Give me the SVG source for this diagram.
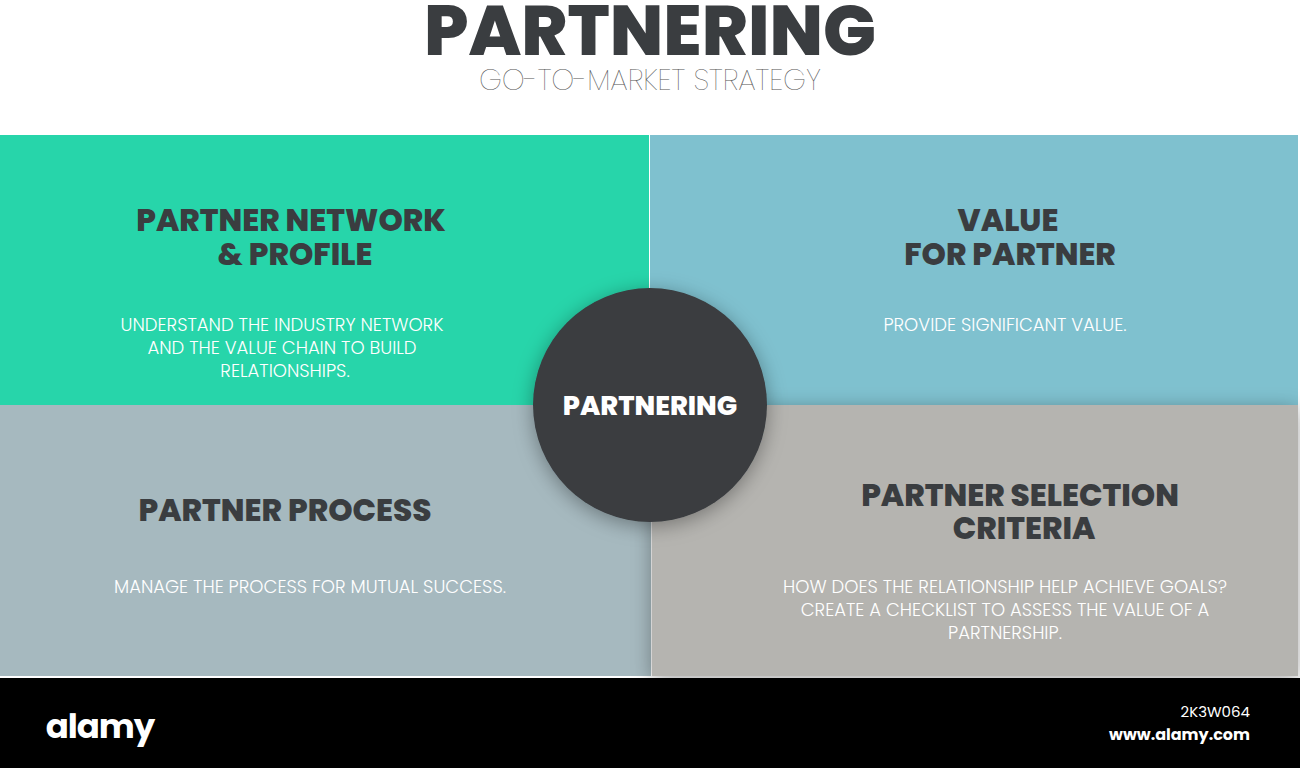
<svg xmlns="http://www.w3.org/2000/svg" width="1300" height="768" viewBox="0 0 1300 768">
<style>
text{font-family:"Poppins","Inter","Liberation Sans",sans-serif;text-anchor:middle}
.h{font-weight:800;font-size:31px;fill:#3a3d40}
.d{font-size:18px;fill:#ffffff;font-weight:300}
</style>
<defs>
<filter id="sh" x="-30%" y="-30%" width="160%" height="160%"><feDropShadow dx="0" dy="4" stdDeviation="10" flood-opacity="0.35"/></filter>
</defs>
<rect width="1300" height="768" fill="#fff"/>
<text x="650" y="55" style="font-size:70px;font-weight:800;fill:#3a3d40">PARTNERING</text>
<text x="650" y="90" style="font-size:29px;font-weight:200;fill:#555">GO-TO-MARKET STRATEGY</text>
<g id="q1"><rect x="0" y="135" width="649" height="270" fill="#27d5aa"/>
<text class="h" x="291" y="231">PARTNER NETWORK</text><text class="h" x="295" y="265">&amp; PROFILE</text>
<text class="d" x="282" y="331">UNDERSTAND THE INDUSTRY NETWORK</text><text class="d" x="282" y="354">AND THE VALUE CHAIN TO BUILD</text><text class="d" x="285" y="377">RELATIONSHIPS.</text></g>
<g id="q2"><rect x="650" y="135" width="648" height="270" fill="#7fc1cf"/>
<text class="h" x="1008" y="231">VALUE</text><text class="h" x="1010" y="265">FOR PARTNER</text>
<text class="d" x="1005" y="331">PROVIDE SIGNIFICANT VALUE.</text></g>
<g id="q3"><rect x="0" y="405" width="651" height="271" fill="#a6b9bf"/>
<text class="h" x="285" y="521">PARTNER PROCESS</text>
<text class="d" x="310" y="593">MANAGE THE PROCESS FOR MUTUAL SUCCESS.</text></g>
<g id="q4"><rect x="652" y="405" width="646" height="271" fill="#b5b4b0" filter="url(#sh)"/>
<text class="h" x="1020" y="506">PARTNER SELECTION</text><text class="h" x="1024" y="539">CRITERIA</text>
<text class="d" x="1005" y="593">HOW DOES THE RELATIONSHIP HELP ACHIEVE GOALS?</text><text class="d" x="1005" y="616">CREATE A CHECKLIST TO ASSESS THE VALUE OF A</text><text class="d" x="1005" y="639">PARTNERSHIP.</text></g>
<g id="center"><circle cx="650" cy="405" r="117" fill="#3a3d40" filter="url(#sh)"/>
<text x="650" y="415" style="font-size:27px;font-weight:800;fill:#fff">PARTNERING</text></g>
<g id="connectors"/>
<rect x="0" y="678" width="1300" height="90" fill="#000"/>
<text x="100" y="738" style="font-size:34px;font-weight:700;fill:#fff;letter-spacing:-1px">alamy</text>
<text x="1250" y="717" style="font-size:15px;fill:#fff;text-anchor:end">2K3W064</text>
<text x="1250" y="740" style="font-size:16px;font-weight:700;fill:#fff;text-anchor:end">www.alamy.com</text>
</svg>
